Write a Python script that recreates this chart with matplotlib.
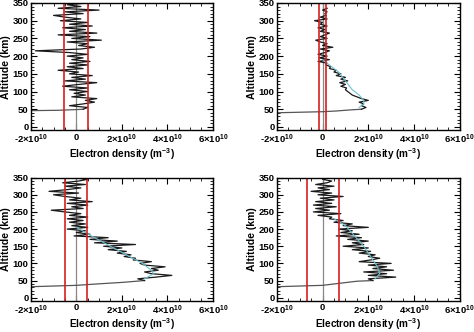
import numpy as np
import matplotlib
matplotlib.use('Agg')
import matplotlib.pyplot as plt
from matplotlib.ticker import MultipleLocator

plt.rcParams['font.family'] = 'Liberation Sans'
plt.rcParams['font.weight'] = 'bold'
plt.rcParams['mathtext.fontset'] = 'custom'
plt.rcParams['mathtext.rm'] = 'Liberation Sans:bold'
plt.rcParams['mathtext.default'] = 'rm'

# altitude grid of the zigzag profiles (km)
alt = list(range(50, 355, 5))

# electron density, units of 1e10 m^-3
dens1 = [0.3, 0.5, -0.3, 0.3, 0.8, 0.4, 0.9, -0.2, 0.4, -0.1, 0.5, -0.3, 0.5, -0.6, 0.1,
         0.9, -0.5, 0.4, -0.2, 0.7, -0.3, 0.1, -0.8, 0.3, -0.4, 0.5, -0.3, 0.6, -0.2, 0.3,
         -0.4, 0.5, -0.3, -1.8, 0.2, 0.8, 0.1, 0.5, -0.4, 1.1, -0.2, 0.6, -0.8, 0.9, -0.3,
         0.4, -0.6, 0.7, -0.3, 0.5, -0.7, 0.2, -0.5, -1.0, 0.3, -0.5, 1.0, -0.8, 0.2, -0.4, 0.5]
dens2 = [1.7, 1.9, 1.7, 1.8, 1.6, 2.0, 1.7, 1.5, 1.3, 1.2, 1.1, 1.0, 1.05, 0.8, 1.0,
         0.75, 1.1, 0.8, 1.0, 0.6, 0.8, 0.5, 0.6, 0.3, 0.35, 0.15, 0.2, -0.2, 0.3, -0.15,
         0.2, -0.2, 0.1, 0.3, -0.1, 0.45, 0.0, 0.2, -0.1, -0.3, 0.2, -0.1, 0.1, 0.3, -0.1,
         0.1, -0.2, 0.2, -0.1, 0.0, -0.35, 0.2, -0.1, 0.15, 0.1, 0.2, 0.0, 0.2]
dens3 = [3.0, 2.7, 3.5, 4.2, 3.3, 3.0, 3.6, 3.3, 3.9, 3.0, 2.8, 3.3, 2.5, 2.6, 2.1,
         2.4, 1.8, 2.2, 1.4, 2.0, 1.2, 2.6, 0.8, 1.8, 0.6, 1.4, -0.1, 0.6, 0.0, 0.4,
         -0.4, 0.5, -0.2, 0.4, -0.3, 0.3, -0.4, 0.5, -0.3, 0.2, -0.5, -1.1, 0.3, -0.2, 0.5,
         -0.4, 0.7, -0.3, 0.2, -0.5, -1.0, 0.1, -1.2, -0.4, 0.2, -0.5, 0.4, -0.6, 0.1, 0.5, -0.2]
dens4 = [2.2, 2.0, 3.2, 2.0, 2.8, 1.8, 3.1, 2.2, 2.8, 2.0, 3.0, 1.6, 2.1, 2.5, 2.0,
         2.3, 1.6, 2.1, 1.3, 2.0, 0.9, 1.8, 1.3, 2.0, 1.1, 1.7, 0.6, 1.6, 0.8, 1.3,
         0.7, 2.0, 0.9, 1.3, 0.5, 0.9, 0.3, 0.4, -0.2, 0.8, -0.4, 0.3, -0.3, 0.6, -0.4,
         0.4, -0.3, 0.5, -0.1, 0.9, -0.2, 0.4, -0.5, 0.3, -0.2, 0.5, -0.3, 0.2, 0.4, 0.0, 0.3]

# lower (below-profile) segment: density, altitude
low1_x = [-2.0, -0.8, 0.0, 0.3]
low1_y = [46, 47, 49, 50]
low2_x = [-2.0, 0.0, 0.6, 1.2, 1.7]
low2_y = [40, 43, 45, 48, 50]
low3_x = [-2.0, 0.0, 0.9, 2.1, 3.0]
low3_y = [32, 36, 40, 45, 50]
low4_x = [-2.0, 0.0, 0.5, 1.5, 2.2]
low4_y = [32, 36, 40, 48, 50]

# fitted curves (cyan)
fit2_x = [0.0, 0.3, 0.7, 1.0, 1.3, 1.6, 1.8, 1.8, 1.6]
fit2_y = [190, 175, 155, 130, 105, 90, 75, 65, 55]
fit3_x = [0.0, 0.8, 1.5, 2.2, 2.9, 3.3, 3.4, 3.0]
fit3_y = [205, 175, 150, 125, 100, 80, 70, 55]
fit4_x = [0.5, 1.0, 1.4, 1.8, 2.1, 2.4, 2.5, 2.3]
fit4_y = [230, 210, 180, 150, 120, 90, 70, 55]

# noise thresholds (red lines)
thr = [0.53, 0.17, 0.48, 0.70]

xticks = [-2, 0, 2, 4, 6]
xticklabels = ['-2×10$^{10}$', '0', '2×10$^{10}$', '4×10$^{10}$', '6×10$^{10}$']
yticks = [0, 50, 100, 150, 200, 250, 300, 350]

panels = [
    (dens1, low1_x, low1_y, None, None),
    (dens2, low2_x, low2_y, fit2_x, fit2_y),
    (dens3, low3_x, low3_y, fit3_x, fit3_y),
    (dens4, low4_x, low4_y, fit4_x, fit4_y),
]
boxes = [[0.065, 0.607, 0.384, 0.384], [0.584, 0.607, 0.386, 0.384],
         [0.065, 0.093, 0.384, 0.372], [0.584, 0.093, 0.386, 0.372]]

fig = plt.figure(figsize=(4.74, 3.32), dpi=100)
for i, (d, lx, ly, fx, fy) in enumerate(panels):
    ax = fig.add_axes(boxes[i])
    ax.axvline(0, color='#888888', lw=0.9)
    a = alt[:len(d)]
    ax.plot(lx, ly, color='#555555', lw=0.9)
    ax.plot(d, a, color='#1a1a1a', lw=0.9)
    if fx is not None:
        ax.plot(fx, fy, color='#6fc0d0', lw=0.8)
    ax.axvline(-thr[i], color='#d42020', lw=1.2)
    ax.axvline(thr[i], color='#d42020', lw=1.2)
    ax.set_xlim(-2, 6)
    ax.set_ylim(-10, 350)
    ax.set_xticks(xticks)
    ax.set_xticklabels(xticklabels)
    ax.set_yticks(yticks)
    ax.xaxis.set_minor_locator(MultipleLocator(0.5))
    ax.yaxis.set_minor_locator(MultipleLocator(10))
    ax.tick_params(which='both', direction='in', top=True, right=True, labelsize=6.8, pad=1.5)
    ax.tick_params(which='major', length=4, width=0.8)
    ax.tick_params(which='minor', length=2, width=0.6)
    for s in ax.spines.values():
        s.set_linewidth(1.0)
    ax.set_xlabel('Electron density (m$^{-3}$)', fontsize=7.2, fontweight='bold', labelpad=0)
    ax.set_ylabel('Altitude (km)', fontsize=7.5, fontweight='bold', labelpad=1)

fig.savefig('out.png', dpi=100)
